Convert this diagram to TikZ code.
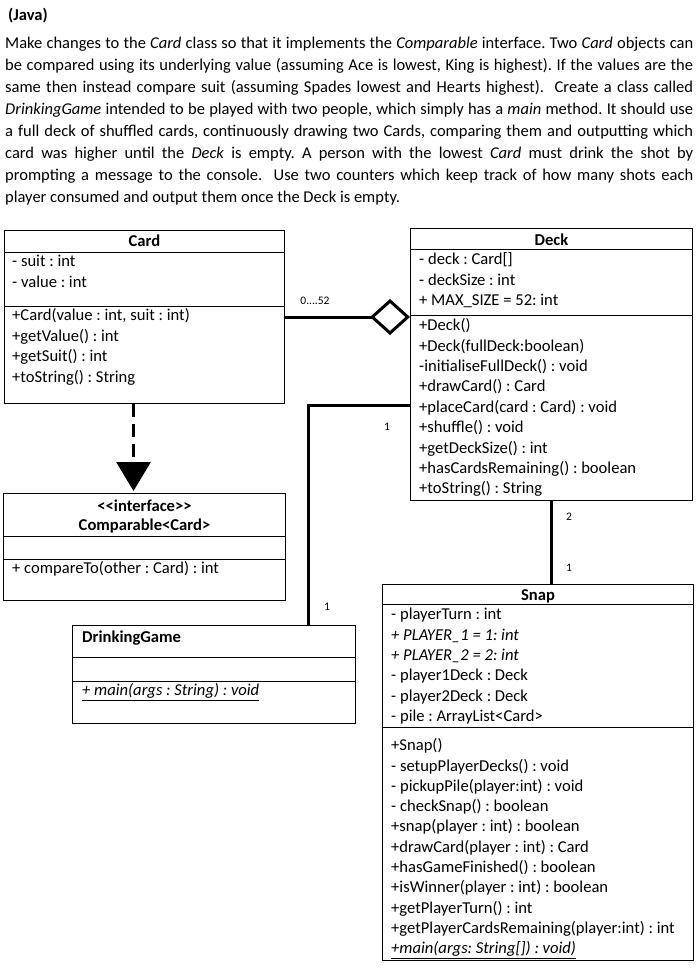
\documentclass[tikz,border=0pt]{standalone}
\usepackage{fontspec}
\setmainfont{Carlito}
\usetikzlibrary{arrows.meta, positioning}

\newcommand{\umlsize}{\fontsize{16.6}{19}\selectfont}

\begin{document}
\frenchspacing
\begin{tikzpicture}[x=1pt, y=-1pt,
    umlbox/.style={draw, line width=1pt, anchor=north west, inner sep=0pt},
    member/.style={anchor=west, inner sep=0pt, text height=11.5pt, text depth=4pt, font=\umlsize},
    ctitle/.style={inner sep=0pt, text height=11.5pt, text depth=4pt, font=\umlsize\bfseries},
    mult/.style={inner sep=0pt, font=\fontsize{11.5}{13}\selectfont},
    link/.style={line width=3pt}]

\useasboundingbox (0,0) rectangle (696,969);

% task text
\node[anchor=west, inner sep=0pt, font=\umlsize\bfseries] (lang) at (8,16) {(Java)};
\node[anchor=north west, inner sep=0pt, text width=688pt, align=justify,
      font=\fontsize{16.5}{22}\selectfont] (task) at (5,37)
  {Make changes to the \textit{Card} class so that it implements the \textit{Comparable} interface. Two \textit{Card} objects can\linebreak
   be compared using its underlying value (assuming Ace is lowest, King is highest). If the values are the\linebreak
   same then instead compare suit (assuming Spades lowest and Hearts highest).\ \ Create a class called\linebreak
   \textit{DrinkingGame} intended to be played with two people, which simply has a \textit{main} method. It should use\linebreak
   a full deck of shuffled cards, continuously drawing two Cards, comparing them and outputting which\linebreak
   card was higher until the \textit{Deck} is empty. A person with the lowest \textit{Card} must drink the shot by\linebreak
   prompting a message to the console.\ \ Use two counters which keep track of how many shots each\linebreak
   player consumed and output them once the Deck is empty.};

% Card
\node[umlbox, minimum width=280pt, minimum height=173pt] (card) at (4,230) {};
\node[ctitle, below=4.75pt of card.north] (card-name) {Card};
\draw (card.west |- 0,252) -- (card.east |- 0,252);
\draw (card.west |- 0,306) -- (card.east |- 0,306);
\foreach \txt [count=\i] in {- suit : int, - value : int}
  \node[member] (card-a\i) at (12,{263+20.5*(\i-1)}) {\txt};
\foreach \txt [count=\i] in {{+Card(value : int, suit : int)}, +getValue() : int, +getSuit() : int, +toString() : String}
  \node[member] (card-m\i) at (12,{317+20.5*(\i-1)}) {\txt};

% Comparable
\node[umlbox, minimum width=282pt, minimum height=107pt] (iface) at (3,493) {};
\node[ctitle, below=6.75pt of iface.north] (iface-tag) {<{}<interface>{}>};
\node[ctitle, below=3.5pt of iface-tag] (iface-name) {Comparable<Card>};
\draw (iface.west |- 0,536) -- (iface.east |- 0,536);
\draw (iface.west |- 0,559) -- (iface.east |- 0,559);
\node[member] (iface-m1) at (12,570) {+ compareTo(other : Card) : int};

% DrinkingGame
\node[umlbox, minimum width=283pt, minimum height=98pt] (dg) at (72,625) {};
\node[ctitle, anchor=west] (dg-name) at (82,638.5) {DrinkingGame};
\draw (dg.west |- 0,657) -- (dg.east |- 0,657);
\draw (dg.west |- 0,681) -- (dg.east |- 0,681);
\node[member] (dg-m1) at (82,692) {\underline{\itshape + main(args : String) : void}};

% Deck
\node[umlbox, minimum width=282pt, minimum height=272pt] (deck) at (410,228) {};
\node[ctitle, below=5.75pt of deck.north] (deck-name) {Deck};
\draw (deck.west |- 0,249) -- (deck.east |- 0,249);
\draw (deck.west |- 0,315) -- (deck.east |- 0,315);
\foreach \txt [count=\i] in {- deck : Card[], - deckSize : int, + MAX\_SIZE = 52: int}
  \node[member] (deck-a\i) at (419,{261+20.5*(\i-1)}) {\txt};
\foreach \txt [count=\i] in {+Deck(), +Deck(fullDeck:boolean), -initialiseFullDeck() : void,
    +drawCard() : Card, +placeCard(card : Card) : void, +shuffle() : void,
    +getDeckSize() : int, +hasCardsRemaining() : boolean, +toString() : String}
  \node[member] (deck-m\i) at (419,{327+20.4*(\i-1)}) {\txt};

% Snap
\node[umlbox, minimum width=311pt, minimum height=376pt] (snap) at (382,584) {};
\node[ctitle, below=4.75pt of snap.north] (snap-name) {Snap};
\draw (snap.west |- 0,604) -- (snap.east |- 0,604);
\draw (snap.west |- 0,727) -- (snap.east |- 0,727);
\foreach \txt [count=\i] in {- playerTurn : int, {\itshape + PLAYER\_1 = 1: int}, {\itshape + PLAYER\_2 = 2: int},
    - player1Deck : Deck, - player2Deck : Deck, - pile : ArrayList<Card>}
  \node[member] (snap-a\i) at (391,{616+20.4*(\i-1)}) {\txt};
\foreach \txt [count=\i] in {+Snap(), - setupPlayerDecks() : void, - pickupPile(player:int) : void,
    - checkSnap() : boolean, +snap(player : int) : boolean, +drawCard(player : int) : Card,
    +hasGameFinished() : boolean, +isWinner(player : int) : boolean, +getPlayerTurn() : int,
    +getPlayerCardsRemaining(player:int) : int, {\underline{\itshape +main(args: String[]) : void)}}}
  \node[member] (snap-m\i) at (391,{747+20.3*(\i-1)}) {\txt};

% relations
\draw[link, dash pattern=on 13pt off 7pt, shorten >=2pt, -{Triangle[length=29pt, width=34pt]}]
  ([xshift=-11pt]card.south) -- ([xshift=-11pt]iface.north);
\draw[link, -{Diamond[open, length=40pt, width=36pt]}] (card.east) -- (card.east -| deck.west);
\draw[link] ([xshift=94.5pt]dg.north) |- (deck.west |- 0,405);
\draw[link] (deck.south) -- (deck.south |- snap.north);

% multiplicities
\node[mult] (m-cards) at (315,301) {0....52};
\node[mult] (m-deck) at (387,427) {1};
\node[mult] (m-game) at (327,607) {1};
\node[mult] (m-two) at (569,517) {2};
\node[mult] (m-snap) at (569,568) {1};
\end{tikzpicture}
\end{document}
